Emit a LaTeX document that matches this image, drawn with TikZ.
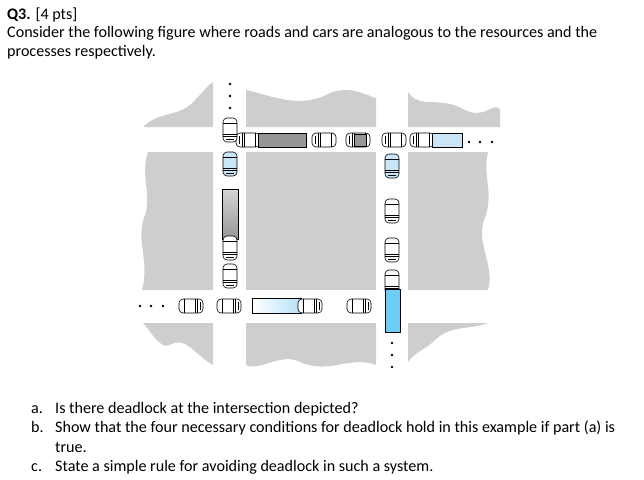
\documentclass[tikz,border=0pt]{standalone}
\usepackage{fontspec}
\setmainfont{Carlito}
\definecolor{blk}{RGB}{205,206,208}
\definecolor{lb}{RGB}{200,230,248}
\definecolor{bb}{RGB}{110,205,245}
\definecolor{tg}{RGB}{150,150,152}
\newcommand\mycar[4]{%
  \begin{scope}[shift={(#1,#2)},rotate=#3]
    \draw[line width=0.6pt,fill=#4,rounded corners=4] (-12,-7) rectangle (12,7);
    \draw[line width=0.5pt] (-6,-7)--(-6,7) (-4,-7)--(-4,7) (7,-7)--(7,7);
    \draw[line width=0.5pt] (-9,-4) -- (-9,4);
  \end{scope}}
\tikzset{blockf/.style={fill=blk,draw=none},
  dot/.style={circle,fill=black,inner sep=0pt,minimum size=2.6pt},
  txt/.style={anchor=base west,inner sep=0pt,font=\fontsize{16.1}{20}\selectfont}}
\begin{document}
\begin{tikzpicture}[x=1pt,y=-1pt]
\useasboundingbox (0,0) rectangle (644,479);
% blocks
\fill[blockf] (143,127) .. controls (160,110) and (180,118) .. (195,100) .. controls (205,90) and (208,85) .. (213,82) -- (213,127) -- cycle;
\fill[blockf] (246,127) -- (246,90) .. controls (270,95) and (300,110) .. (330,93) .. controls (350,85) and (365,95) .. (376,98) -- (376,127) -- cycle;
\fill[blockf] (408,127) -- (408,92) .. controls (420,110) and (440,95) .. (465,110) .. controls (485,120) and (495,100) .. (500,110) -- (500,127) -- cycle;
\fill[blockf] (213,152) -- (213,290) -- (142,290) .. controls (150,260) and (135,240) .. (145,215) .. controls (152,195) and (140,175) .. (148,152) -- cycle;
\fill[blockf] (246,152) rectangle (376,290);
\fill[blockf] (408,152) -- (488,152) .. controls (482,175) and (495,195) .. (484,220) .. controls (476,245) and (495,265) .. (488,290) -- (408,290) -- cycle;
\fill[blockf] (143,323) -- (213,323) -- (213,365) .. controls (195,355) and (185,335) .. (170,345) .. controls (160,350) and (150,330) .. (143,323);
\fill[blockf] (246,323) -- (376,323) -- (376,365) .. controls (350,355) and (330,375) .. (300,362) .. controls (280,352) and (260,372) .. (246,365) -- cycle;
\fill[blockf] (408,323) -- (488,323) .. controls (470,330) and (450,325) .. (435,340) .. controls (425,350) and (415,352) .. (408,362) -- cycle;
% top road
\mycar{248}{140}{0}{white}
\draw[line width=0.6pt,fill=tg] (258,133) rectangle (306,147);
\mycar{324}{140}{0}{white}
\mycar{358}{140}{0}{white}
\draw[line width=0.6pt,fill=tg] (354,134) rectangle (366,146);
\mycar{394}{140}{0}{white}
\mycar{422}{140}{0}{white}
\draw[line width=0.6pt,fill=lb] (432,133) rectangle (462,147);
\node[dot] (d1) at (469,142) {}; \node[dot] (d2) at (480,142) {}; \node[dot] (d3) at (492,142) {};
% left vertical
\node[dot] (d4) at (230,84) {}; \node[dot] (d5) at (230,96) {}; \node[dot] (d6) at (230,108) {};
\mycar{230}{130}{90}{white}
\mycar{230}{164}{90}{lb}
\shade[top color=tg!40,bottom color=tg,draw=black,line width=0.6pt] (222,189) rectangle (238,239);
\mycar{230}{248}{90}{white}
\mycar{230}{276}{90}{white}
% bottom road
\node[dot] (d7) at (140,306) {}; \node[dot] (d8) at (151,306) {}; \node[dot] (d9) at (163,306) {};
\mycar{191}{306}{180}{white}
\mycar{229}{306}{180}{white}
\shade[left color=white,right color=lb!80!bb,draw=black,line width=0.6pt] (252,298) rectangle (301,313);
\mycar{310}{306}{180}{white}
\mycar{359}{306}{180}{white}
% right vertical
\mycar{392}{166}{90}{lb}
\mycar{392}{211}{90}{white}
\mycar{392}{250}{90}{white}
\mycar{392}{282}{90}{white}
\draw[line width=0.6pt,fill=bb] (385,289) rectangle (400,332);
\node[dot] (d10) at (392,343) {}; \node[dot] (d11) at (392,355) {}; \node[dot] (d12) at (392,367) {};
% text
\node[txt] (t0) at (7,19) {\textbf{Q3.} [4 pts]};
\node[txt] (t1) at (7,37) {Consider the following figure where roads and cars are analogous to the resources and the};
\node[txt] (t2) at (7,56) {processes respectively.};
\node[txt] (la) at (31,413) {a.};
\node[txt] (a) at (55,413) {Is there deadlock at the intersection depicted?};
\node[txt] (lb) at (31,432) {b.};
\node[txt] (b) at (55,432) {Show that the four necessary conditions for deadlock hold in this example if part (a) is};
\node[txt] (b2) at (55,452) {true.};
\node[txt] (lc) at (31,471) {c.};
\node[txt] (c) at (55,471) {State a simple rule for avoiding deadlock in such a system.};
\end{tikzpicture}
\end{document}
